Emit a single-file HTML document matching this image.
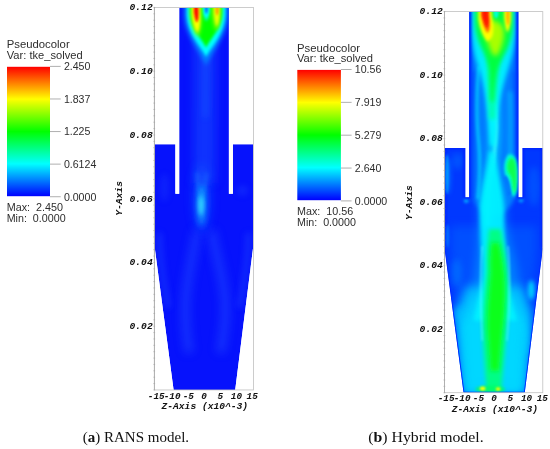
<!DOCTYPE html>
<html><head><meta charset="utf-8"><title>tke_solved: RANS vs Hybrid</title>
<style>
html,body{margin:0;padding:0;background:#fff;}
body{width:550px;height:449px;overflow:hidden;}
svg{display:block;}
.leg{font-family:"Liberation Sans",sans-serif;font-size:10.6px;fill:#2e2e2e;}
.ax{font-family:"Liberation Mono",monospace;font-weight:bold;font-style:italic;font-size:9px;fill:#111;}
.ax2{font-family:"Liberation Mono",monospace;font-weight:bold;font-style:italic;font-size:9px;fill:#111;}
.cap{font-family:"Liberation Serif",serif;font-size:13.6px;fill:#111;}
</style></head><body>
<svg width="550" height="449" viewBox="0 0 550 449">
<defs>
<linearGradient id="hot" x1="0" y1="0" x2="0" y2="1">
<stop offset="0" stop-color="#ff0000"/><stop offset="0.25" stop-color="#ffff00"/><stop offset="0.5" stop-color="#00ff00"/><stop offset="0.75" stop-color="#00ffff"/><stop offset="1" stop-color="#0000ff"/>
</linearGradient>
<clipPath id="dom"><path d="M24.8,0 L74.5,0 L74.5,186 L78.5,186 L78.5,136.7 L99,136.7 L99,237.4 L80.8,382 L19.2,382 L0,237.4 L0,136.7 L21,136.7 L21,186 L24.8,186 Z"/></clipPath>
<filter id="b15" filterUnits="userSpaceOnUse" x="-100" y="-100" width="400" height="700"><feGaussianBlur stdDeviation="1.5"/></filter>
<filter id="b25" filterUnits="userSpaceOnUse" x="-100" y="-100" width="400" height="700"><feGaussianBlur stdDeviation="2.5"/></filter>
<filter id="b05" filterUnits="userSpaceOnUse" x="-100" y="-100" width="400" height="700"><feGaussianBlur stdDeviation="0.6"/></filter>
<filter id="b1" filterUnits="userSpaceOnUse" x="-100" y="-100" width="400" height="700"><feGaussianBlur stdDeviation="1"/></filter>
<filter id="b2" filterUnits="userSpaceOnUse" x="-100" y="-100" width="400" height="700"><feGaussianBlur stdDeviation="2"/></filter>
<filter id="b3" filterUnits="userSpaceOnUse" x="-100" y="-100" width="400" height="700"><feGaussianBlur stdDeviation="3"/></filter>
<filter id="b5" filterUnits="userSpaceOnUse" x="-100" y="-100" width="400" height="700"><feGaussianBlur stdDeviation="5"/></filter>
</defs>
<rect width="550" height="449" fill="#fff"/>
<!-- left plot -->
<g transform="translate(154.4,7.45) scale(1,1.0013)"><g clip-path="url(#dom)">
<path d="M24.8,0 L74.5,0 L74.5,186 L78.5,186 L78.5,136.7 L99,136.7 L99,237.4 L80.8,382 L19.2,382 L0,237.4 L0,136.7 L21,136.7 L21,186 L24.8,186 Z" fill="#0612fc"/>
<path d="M43,222 C38,250 31,275 31,300 C31,320 33,335 35,345" stroke="#2a60ff" stroke-width="9" fill="none" opacity="0.42" filter="url(#b5)"/>
<path d="M57,222 C62,250 71,275 71,300 C71,320 68,335 66,345" stroke="#2a60ff" stroke-width="9" fill="none" opacity="0.42" filter="url(#b5)"/>
<path d="M5,225 C5,250 9,275 14,300" stroke="#2a5cff" stroke-width="5" fill="none" opacity="0.4" filter="url(#b3)"/>
<path d="M94,225 C94,250 90,275 85,300" stroke="#2a5cff" stroke-width="5" fill="none" opacity="0.4" filter="url(#b3)"/>
<ellipse cx="10" cy="180" rx="4" ry="14" fill="#2a5cff" opacity="0.25" filter="url(#b3)"/>
<ellipse cx="88" cy="183" rx="6" ry="5" fill="#2a5cff" opacity="0.28" filter="url(#b3)"/>
<ellipse cx="47.5" cy="190" rx="9" ry="34" fill="#1050ff" opacity="0.7" filter="url(#b5)"/>
<path d="M43,165 Q45,185 46.8,200 Q49,185 52,165" stroke="#1888ff" stroke-width="3" fill="none" opacity="0.8" filter="url(#b2)"/>
<ellipse cx="47" cy="198" rx="4.2" ry="20" fill="#10a0ff" opacity="0.85" filter="url(#b3)"/>
<ellipse cx="46.6" cy="198" rx="2.4" ry="10" fill="#38e0ff" opacity="0.95" filter="url(#b2)"/>
<path d="M50.5,30 L50,175" stroke="#1848ff" stroke-width="22" fill="none" opacity="0.6" filter="url(#b5)"/>
<path d="M51.5,40 L51,110" stroke="#1860ff" stroke-width="5" fill="none" opacity="0.45" filter="url(#b3)"/>
<g transform="translate(2.2,0)">
<path d="M27.5,-10 L27.5,8 C28.5,28 42,42 49.5,58 C57,42 70.5,28 71.5,8 L71.5,-10Z" fill="#0080ff" filter="url(#b2)"/>
<path d="M30.3,-10 L30.3,8 C31.3,26 43,38 49.5,49 C56,38 67.7,26 68.7,8 L68.7,-10Z" fill="#00ffff" filter="url(#b15)"/>
<path d="M33.3,-10 L33.3,6 C34.3,22 44.5,30 49.5,40 C54.5,30 64.7,22 65.7,6 L65.7,-10Z" fill="#00ff00" filter="url(#b15)"/>
<path d="M46,-10 L46,5 Q49.7,22 53.5,5 L53.5,-10Z" fill="#00ffb0" filter="url(#b15)"/>
<path d="M47,-10 L47,4 Q49.8,16 52.5,4 L52.5,-10Z" fill="#00ffff" filter="url(#b1)"/>
<path d="M48.2,-10 L48.2,2.5 Q49.8,10 51.4,2.5 L51.4,-10Z" fill="#0078ff" filter="url(#b1)"/>
<path transform="translate(-2,0)" d="M36,-10 L36,8 Q38,24 43,30 Q47,24 46.5,8 L46,-10Z" fill="#90ff00" filter="url(#b2)" opacity="0.9"/>
<path transform="translate(-2,0)" d="M57.5,-10 L57.5,6 Q59,20 62,24 Q65.5,18 66,5 L66,-10Z" fill="#90ff00" filter="url(#b2)" opacity="0.9"/>
<path transform="translate(-2,0)" d="M37.6,-10 L37.6,8 Q39.5,22 43,25 Q46,20 45.5,8 L45,-10Z" fill="#ffff00" filter="url(#b15)"/>
<path transform="translate(-2,0)" d="M59.5,-10 L59.5,6 Q60.5,17 62.3,19 Q64.8,15 65,5 L65,-10Z" fill="#ffff00" filter="url(#b15)" opacity="0.9"/>
<path transform="translate(-2,0)" d="M39.3,-10 L39.3,5 Q40.5,13 42.2,15 Q44.2,12 44,5 L43.6,-10Z" fill="#ff1000" filter="url(#b1)"/>
<path transform="translate(-2,0)" d="M61,-10 L61,4 Q62.5,12 64,4 L64,-10Z" fill="#ff8000" filter="url(#b1)" opacity="0.75"/>
</g>
</g></g>
<rect x="154.4" y="7.45" width="99.1" height="382.5" fill="none" stroke="#c0c0c0" stroke-width="0.8"/>
<path d="M153.5,389.95h1.6 M153.5,383.57h1.6 M153.5,377.20h1.6 M153.5,370.82h1.6 M153.5,364.45h1.6 M153.5,358.07h1.6 M153.5,351.70h1.6 M153.5,345.32h1.6 M153.5,338.95h1.6 M153.5,332.57h1.6 M153.5,326.20h1.6 M153.5,319.82h1.6 M153.5,313.45h1.6 M153.5,307.07h1.6 M153.5,300.70h1.6 M153.5,294.32h1.6 M153.5,287.95h1.6 M153.5,281.57h1.6 M153.5,275.20h1.6 M153.5,268.82h1.6 M153.5,262.45h1.6 M153.5,256.07h1.6 M153.5,249.70h1.6 M153.5,243.32h1.6 M153.5,236.95h1.6 M153.5,230.57h1.6 M153.5,224.20h1.6 M153.5,217.82h1.6 M153.5,211.45h1.6 M153.5,205.07h1.6 M153.5,198.70h1.6 M153.5,192.32h1.6 M153.5,185.95h1.6 M153.5,179.57h1.6 M153.5,173.20h1.6 M153.5,166.82h1.6 M153.5,160.45h1.6 M153.5,154.07h1.6 M153.5,147.70h1.6 M153.5,141.32h1.6 M153.5,134.95h1.6 M153.5,128.57h1.6 M153.5,122.20h1.6 M153.5,115.82h1.6 M153.5,109.45h1.6 M153.5,103.07h1.6 M153.5,96.70h1.6 M153.5,90.32h1.6 M153.5,83.95h1.6 M153.5,77.57h1.6 M153.5,71.20h1.6 M153.5,64.82h1.6 M153.5,58.45h1.6 M153.5,52.07h1.6 M153.5,45.70h1.6 M153.5,39.32h1.6 M153.5,32.95h1.6 M153.5,26.57h1.6 M153.5,20.20h1.6 M153.5,13.82h1.6 M153.5,7.45h1.6" stroke="#9a9a9a" stroke-width="0.7" fill="none"/>
<line x1="154.4" y1="7.45" x2="154.4" y2="389.95" stroke="#a8a8a8" stroke-width="0.8"/>
<text class="ax" x="152.70000000000002" y="329.00" text-anchor="end" textLength="23.2" lengthAdjust="spacingAndGlyphs">0.02</text>
<text class="ax" x="152.70000000000002" y="265.25" text-anchor="end" textLength="23.2" lengthAdjust="spacingAndGlyphs">0.04</text>
<text class="ax" x="152.70000000000002" y="201.50" text-anchor="end" textLength="23.2" lengthAdjust="spacingAndGlyphs">0.06</text>
<text class="ax" x="152.70000000000002" y="137.75" text-anchor="end" textLength="23.2" lengthAdjust="spacingAndGlyphs">0.08</text>
<text class="ax" x="152.70000000000002" y="74.00" text-anchor="end" textLength="23.2" lengthAdjust="spacingAndGlyphs">0.10</text>
<text class="ax" x="152.70000000000002" y="10.25" text-anchor="end" textLength="23.2" lengthAdjust="spacingAndGlyphs">0.12</text>
<text class="ax" x="156.20" y="398.55" text-anchor="middle" textLength="16.8" lengthAdjust="spacingAndGlyphs">-15</text>
<text class="ax" x="172.10" y="398.55" text-anchor="middle" textLength="16.8" lengthAdjust="spacingAndGlyphs">-10</text>
<text class="ax" x="188.30" y="398.55" text-anchor="middle" textLength="11.2" lengthAdjust="spacingAndGlyphs">-5</text>
<text class="ax" x="204.00" y="398.55" text-anchor="middle" textLength="5.6" lengthAdjust="spacingAndGlyphs">0</text>
<text class="ax" x="220.30" y="398.55" text-anchor="middle" textLength="5.6" lengthAdjust="spacingAndGlyphs">5</text>
<text class="ax" x="236.40" y="398.55" text-anchor="middle" textLength="11.2" lengthAdjust="spacingAndGlyphs">10</text>
<text class="ax" x="252.20" y="398.55" text-anchor="middle" textLength="11.2" lengthAdjust="spacingAndGlyphs">15</text>
<text class="ax2" x="204.8" y="409.05" text-anchor="middle" textLength="86.5" lengthAdjust="spacingAndGlyphs">Z-Axis (x10^-3)</text>
<text class="ax2" transform="translate(121.80000000000001,198.45) rotate(-90)" text-anchor="middle" textLength="34.8" lengthAdjust="spacingAndGlyphs">Y-Axis</text>
<rect x="7" y="66.8" width="43.0" height="129.4" fill="url(#hot)"/>
<line x1="50.0" y1="66.40" x2="60.7" y2="66.40" stroke="#9a9a9a" stroke-width="0.8"/>
<text class="leg" x="63.9" y="70.25">2.450</text>
<line x1="50.0" y1="98.98" x2="60.7" y2="98.98" stroke="#9a9a9a" stroke-width="0.8"/>
<text class="leg" x="63.9" y="102.83">1.837</text>
<line x1="50.0" y1="131.56" x2="60.7" y2="131.56" stroke="#9a9a9a" stroke-width="0.8"/>
<text class="leg" x="63.9" y="135.41">1.225</text>
<line x1="50.0" y1="164.14" x2="60.7" y2="164.14" stroke="#9a9a9a" stroke-width="0.8"/>
<text class="leg" x="63.9" y="167.99">0.6124</text>
<line x1="50.0" y1="196.72" x2="60.7" y2="196.72" stroke="#9a9a9a" stroke-width="0.8"/>
<text class="leg" x="63.9" y="200.57">0.0000</text>
<text class="leg" x="6.7" y="48.4" textLength="63" lengthAdjust="spacingAndGlyphs">Pseudocolor</text>
<text class="leg" x="6.7" y="59.4" textLength="76" lengthAdjust="spacingAndGlyphs">Var: tke_solved</text>
<text class="leg" x="6.7" y="211.4" xml:space="preserve" textLength="56.3" lengthAdjust="spacingAndGlyphs">Max:  2.450</text>
<text class="leg" x="6.7" y="221.9" xml:space="preserve" textLength="58.9" lengthAdjust="spacingAndGlyphs">Min:  0.0000</text>
<!-- right plot -->
<g transform="translate(444.5,11.6) scale(0.993,0.9976)"><g clip-path="url(#dom)">
<path d="M24.8,0 L74.5,0 L74.5,186 L78.5,186 L78.5,136.7 L99,136.7 L99,237.4 L80.8,382 L19.2,382 L0,237.4 L0,136.7 L21,136.7 L21,186 L24.8,186 Z" fill="#0038ff"/>
<path d="M27.5,-10 L27.5,186 C32,196 38,200 44,204 L55,204 C61,200 67,196 71.5,186 L71.5,-10Z" fill="#007cff" filter="url(#b2)"/>
<path d="M6,215 L93,215 L93,240 L78,376 L22,376 L6,240Z" fill="#0064ff" opacity="0.55" filter="url(#b5)"/>
<path d="M30,284 L70,284 L84,312 L80,384 L20,384 L15,312Z" fill="#00e0ff" opacity="0.9" filter="url(#b5)"/>
<path d="M22,275 L78,275 L89,302 L81,384 L19,384 L10,302Z" fill="#00d8ff" opacity="0.72" filter="url(#b5)"/>
<ellipse cx="4" cy="165" rx="3" ry="18" fill="#0090ff" opacity="0.4" filter="url(#b2)"/>
<ellipse cx="13" cy="150" rx="6" ry="8" fill="#0070ff" opacity="0.5" filter="url(#b3)"/>
<ellipse cx="90" cy="175" rx="6" ry="20" fill="#0070ff" opacity="0.45" filter="url(#b3)"/>
<ellipse cx="22" cy="189.5" rx="2.4" ry="2.4" fill="#00d0ff" opacity="0.8" filter="url(#b15)"/>
<ellipse cx="77" cy="189" rx="2.4" ry="2.4" fill="#00d0ff" opacity="0.7" filter="url(#b15)"/>
<ellipse cx="87.5" cy="279" rx="3.5" ry="10" fill="#00e8ff" opacity="0.85" filter="url(#b2)"/>
<ellipse cx="15" cy="303" rx="6" ry="8" fill="#00c8ff" opacity="0.5" filter="url(#b3)"/>
<ellipse cx="12" cy="262" rx="5" ry="14" fill="#0088ff" opacity="0.5" filter="url(#b3)"/>
<ellipse cx="80" cy="330" rx="4" ry="14" fill="#00d0ff" opacity="0.5" filter="url(#b3)"/>
<path d="M28,60 L28,190" stroke="#0048ff" stroke-width="6" fill="none" opacity="0.7" filter="url(#b2)"/>
<path d="M71,60 L71,150" stroke="#0048ff" stroke-width="5" fill="none" opacity="0.6" filter="url(#b2)"/>
<path d="M34.5,55 C32,85 31.5,105 34.5,131 C36.5,150 36,165 33.5,188" stroke="#00e0ff" stroke-width="3" fill="none" opacity="0.7" filter="url(#b15)"/>
<path d="M48,50 C49,85 50.7,100 50.7,116 C50.7,135 49.5,145 47,165 C44.5,180 43.5,195 44,215" stroke="#00e8ff" stroke-width="11" fill="none" opacity="0.62" filter="url(#b3)"/>
<path d="M47.8,55 C49.3,85 51.5,100 52,115 C52,135 49.5,150 46,170 C43.5,185 43,200 43.5,215" stroke="#40ffff" stroke-width="3" fill="none" opacity="0.85" filter="url(#b15)"/>
<path d="M66,80 C67.5,100 66,130 67,150" stroke="#00c0ff" stroke-width="5" fill="none" opacity="0.6" filter="url(#b2)"/>
<path d="M45,150 C42,165 34,185 33,200 C34,215 34,225 33,240 C31,260 28,280 24,305 L78,305 C76,280 75,260 69,240 C64,225 62.5,215 62.5,200 C62,185 54,165 51,150Z" fill="#00c8ff" opacity="0.4" filter="url(#b5)"/>
<path d="M45,140 C43,160 36.5,180 35.5,200 C36,215 36,225 37,240 C38,255 38,265 36,278 C34,290 31,300 29,310 L73,310 C71,300 67,290 65,278 C63,265 63,255 62,240 C60.5,225 60,215 60,200 C59.5,180 53,160 50,140Z" fill="#00f4ff" opacity="0.92" filter="url(#b2)"/>
<path d="M45,218 C43,232 42,246 42.5,258 C41,275 38.5,295 38.5,315 C39,340 41,360 42.5,380 L57,380 C58.5,360 61.5,340 62.5,318 C64.5,300 65.5,280 64,262 C63,250 60,234 56.5,218Z" fill="#00ff80" opacity="0.95" filter="url(#b2)"/>
<path d="M47.5,232 C46,244 46,254 46.5,262 C45,280 43,300 43.5,318 L46.5,360 L54.5,360 L58,322 C60,305 61.5,282 60,264 C59,255 57.5,244 54.5,232Z" fill="#10ff18" opacity="0.95" filter="url(#b2)"/>
<path d="M38,235 C36,260 36,290 38,330" stroke="#60ffff" stroke-width="1.5" fill="none" opacity="0.6" filter="url(#b1)"/>
<path d="M64,235 C66,260 66,290 63,330" stroke="#60ffff" stroke-width="1.5" fill="none" opacity="0.6" filter="url(#b1)"/>
<path d="M27.5,-10 L27.5,20 C28,36 31,48 35,58 C38,68 41,80 43,100 C44,115 45,125 46,135 L51,135 C52,120 53,105 55,92 C57,80 61,68 64,58 C68,46 70.5,36 71,22 L71,-10Z" fill="#00ffff" opacity="0.85" filter="url(#b2)"/>
<path d="M42,40 C43,60 44,80 45,108 L51,108 C52,80 54,60 57,40Z" fill="#00ffa0" opacity="0.8" filter="url(#b2)"/>
<path d="M30.5,-10 L30.5,12 C31.5,24 35,32 39,40 C42,46 44,52 45,58 C45.5,66 46,76 46.5,90 L49.5,90 C50.5,76 51.5,66 53.5,58 C56,50 60,44 63,38 C66.5,30 68.5,22 69,14 L69,-10Z" fill="#00ff40" filter="url(#b2)"/>
<path d="M49.5,-10 L49.5,3 Q51.8,11 54.5,3 L54.5,-10Z" fill="#00ffd0" filter="url(#b1)"/>
<path d="M42,12 C40,22 43,32 48,42 C51,47 54,44 57,36 C60,28 61,20 58,14 C54,8 46,8 42,12Z" fill="#a8ff00" filter="url(#b25)"/>
<path d="M34,-10 L34,8 Q36,22 43,30 Q50,28 49,14 L46.5,-10Z" fill="#ffff00" filter="url(#b15)"/>
<path d="M37,-10 L37,5 Q38.5,14 43,21.5 Q46.3,19 45.5,9 L44,-10Z" fill="#ff5000" filter="url(#b15)"/>
<path d="M38.2,-10 L38.2,4 Q39.5,11 42.5,16 Q44.6,13 44,7 L43,-10Z" fill="#ff1400" filter="url(#b1)"/>
<path d="M60,-10 L60,6 Q61,18 63.5,21 Q66.5,16 67,5 L67,-10Z" fill="#ffff00" filter="url(#b15)"/>
<path d="M62,-10 L62,6 Q63,14 64,14 Q65.4,12 65.5,5 L65.5,-10Z" fill="#ffa000" opacity="0.8" filter="url(#b1)"/>
<ellipse cx="46" cy="378.5" rx="15" ry="3.5" fill="#00ff60" opacity="0.85" filter="url(#b15)"/>
<ellipse cx="38.4" cy="377.8" rx="2.8" ry="2.1" fill="#ffff00" filter="url(#b1)"/>
<ellipse cx="54" cy="378.4" rx="2.4" ry="1.8" fill="#f0ff00" filter="url(#b1)"/>
<path d="M24.8,-5 L24.8,186 L21,186 L21,136.7 L0,136.7 L0,237.4 M99,237.4 L99,136.7 L78.5,136.7 L78.5,186 L74.5,186 L74.5,-5" fill="none" stroke="#0020ff" stroke-width="3" filter="url(#b1)"/>
<path d="M0,237.4 L19.2,382 L80.8,382 L99,237.4" fill="none" stroke="#0028ff" stroke-width="1.8" filter="url(#b05)"/>
<ellipse cx="2.6" cy="163" rx="1.8" ry="20" fill="#00a8ff" opacity="0.85" filter="url(#b1)"/>
<ellipse cx="3" cy="225" rx="1.6" ry="12" fill="#0090ff" opacity="0.6" filter="url(#b1)"/>
<path d="M64.5,143 C58.5,149 59,164 64,169 C65.5,176 66.5,185 70,185.5 C73.5,184 74,170 73.7,160 C73.2,150 71.5,142 64.5,143Z" fill="#00ffd8" filter="url(#b15)"/>
<path d="M66.5,146.5 C61.5,151 62,161 66.5,164.5 C69,171 68.5,181 70.5,182 C72.7,179 72.7,168 72.5,160 C72.2,152 71,146 66.5,146.5Z" fill="#10ff50" filter="url(#b15)"/>
<path d="M61,165 Q65,171 66,184" stroke="#0068ff" stroke-width="2.6" fill="none" opacity="0.85" filter="url(#b1)"/>
</g></g>
<rect x="444.5" y="11.6" width="98.3" height="381.1" fill="none" stroke="#c0c0c0" stroke-width="0.8"/>
<path d="M443.6,392.70h1.6 M443.6,386.35h1.6 M443.6,380.00h1.6 M443.6,373.65h1.6 M443.6,367.29h1.6 M443.6,360.94h1.6 M443.6,354.59h1.6 M443.6,348.24h1.6 M443.6,341.89h1.6 M443.6,335.54h1.6 M443.6,329.18h1.6 M443.6,322.83h1.6 M443.6,316.48h1.6 M443.6,310.13h1.6 M443.6,303.78h1.6 M443.6,297.43h1.6 M443.6,291.07h1.6 M443.6,284.72h1.6 M443.6,278.37h1.6 M443.6,272.02h1.6 M443.6,265.67h1.6 M443.6,259.32h1.6 M443.6,252.96h1.6 M443.6,246.61h1.6 M443.6,240.26h1.6 M443.6,233.91h1.6 M443.6,227.56h1.6 M443.6,221.21h1.6 M443.6,214.85h1.6 M443.6,208.50h1.6 M443.6,202.15h1.6 M443.6,195.80h1.6 M443.6,189.45h1.6 M443.6,183.10h1.6 M443.6,176.74h1.6 M443.6,170.39h1.6 M443.6,164.04h1.6 M443.6,157.69h1.6 M443.6,151.34h1.6 M443.6,144.99h1.6 M443.6,138.63h1.6 M443.6,132.28h1.6 M443.6,125.93h1.6 M443.6,119.58h1.6 M443.6,113.23h1.6 M443.6,106.88h1.6 M443.6,100.52h1.6 M443.6,94.17h1.6 M443.6,87.82h1.6 M443.6,81.47h1.6 M443.6,75.12h1.6 M443.6,68.76h1.6 M443.6,62.41h1.6 M443.6,56.06h1.6 M443.6,49.71h1.6 M443.6,43.36h1.6 M443.6,37.01h1.6 M443.6,30.66h1.6 M443.6,24.30h1.6 M443.6,17.95h1.6 M443.6,11.60h1.6" stroke="#9a9a9a" stroke-width="0.7" fill="none"/>
<line x1="444.5" y1="11.6" x2="444.5" y2="392.70000000000005" stroke="#a8a8a8" stroke-width="0.8"/>
<text class="ax" x="442.8" y="331.98" text-anchor="end" textLength="23.2" lengthAdjust="spacingAndGlyphs">0.02</text>
<text class="ax" x="442.8" y="268.47" text-anchor="end" textLength="23.2" lengthAdjust="spacingAndGlyphs">0.04</text>
<text class="ax" x="442.8" y="204.95" text-anchor="end" textLength="23.2" lengthAdjust="spacingAndGlyphs">0.06</text>
<text class="ax" x="442.8" y="141.43" text-anchor="end" textLength="23.2" lengthAdjust="spacingAndGlyphs">0.08</text>
<text class="ax" x="442.8" y="77.92" text-anchor="end" textLength="23.2" lengthAdjust="spacingAndGlyphs">0.10</text>
<text class="ax" x="442.8" y="14.40" text-anchor="end" textLength="23.2" lengthAdjust="spacingAndGlyphs">0.12</text>
<text class="ax" x="446.10" y="401.30" text-anchor="middle" textLength="16.8" lengthAdjust="spacingAndGlyphs">-15</text>
<text class="ax" x="462.10" y="401.30" text-anchor="middle" textLength="16.8" lengthAdjust="spacingAndGlyphs">-10</text>
<text class="ax" x="478.40" y="401.30" text-anchor="middle" textLength="11.2" lengthAdjust="spacingAndGlyphs">-5</text>
<text class="ax" x="494.10" y="401.30" text-anchor="middle" textLength="5.6" lengthAdjust="spacingAndGlyphs">0</text>
<text class="ax" x="510.40" y="401.30" text-anchor="middle" textLength="5.6" lengthAdjust="spacingAndGlyphs">5</text>
<text class="ax" x="526.50" y="401.30" text-anchor="middle" textLength="11.2" lengthAdjust="spacingAndGlyphs">10</text>
<text class="ax" x="542.30" y="401.30" text-anchor="middle" textLength="11.2" lengthAdjust="spacingAndGlyphs">15</text>
<text class="ax2" x="494.9" y="411.80" text-anchor="middle" textLength="86.5" lengthAdjust="spacingAndGlyphs">Z-Axis (x10^-3)</text>
<text class="ax2" transform="translate(411.9,202.6) rotate(-90)" text-anchor="middle" textLength="34.8" lengthAdjust="spacingAndGlyphs">Y-Axis</text>
<rect x="297.3" y="69.9" width="43.6" height="130.3" fill="url(#hot)"/>
<line x1="340.90000000000003" y1="69.50" x2="351.6" y2="69.50" stroke="#9a9a9a" stroke-width="0.8"/>
<text class="leg" x="354.8" y="73.35">10.56</text>
<line x1="340.90000000000003" y1="102.35" x2="351.6" y2="102.35" stroke="#9a9a9a" stroke-width="0.8"/>
<text class="leg" x="354.8" y="106.20">7.919</text>
<line x1="340.90000000000003" y1="135.20" x2="351.6" y2="135.20" stroke="#9a9a9a" stroke-width="0.8"/>
<text class="leg" x="354.8" y="139.05">5.279</text>
<line x1="340.90000000000003" y1="168.05" x2="351.6" y2="168.05" stroke="#9a9a9a" stroke-width="0.8"/>
<text class="leg" x="354.8" y="171.90">2.640</text>
<line x1="340.90000000000003" y1="200.90" x2="351.6" y2="200.90" stroke="#9a9a9a" stroke-width="0.8"/>
<text class="leg" x="354.8" y="204.75">0.0000</text>
<text class="leg" x="297.0" y="51.6" textLength="63" lengthAdjust="spacingAndGlyphs">Pseudocolor</text>
<text class="leg" x="297.0" y="62.2" textLength="76" lengthAdjust="spacingAndGlyphs">Var: tke_solved</text>
<text class="leg" x="297.0" y="215.3" xml:space="preserve" textLength="56.3" lengthAdjust="spacingAndGlyphs">Max:  10.56</text>
<text class="leg" x="297.0" y="226.2" xml:space="preserve" textLength="58.9" lengthAdjust="spacingAndGlyphs">Min:  0.0000</text>
<text class="cap" x="82.7" y="441.7" textLength="106.4" lengthAdjust="spacingAndGlyphs">(<tspan font-weight="bold">a</tspan>) RANS model.</text>
<text class="cap" x="368.3" y="441.7" textLength="115.3" lengthAdjust="spacingAndGlyphs">(<tspan font-weight="bold">b</tspan>) Hybrid model.</text>
</svg>
</body></html>
